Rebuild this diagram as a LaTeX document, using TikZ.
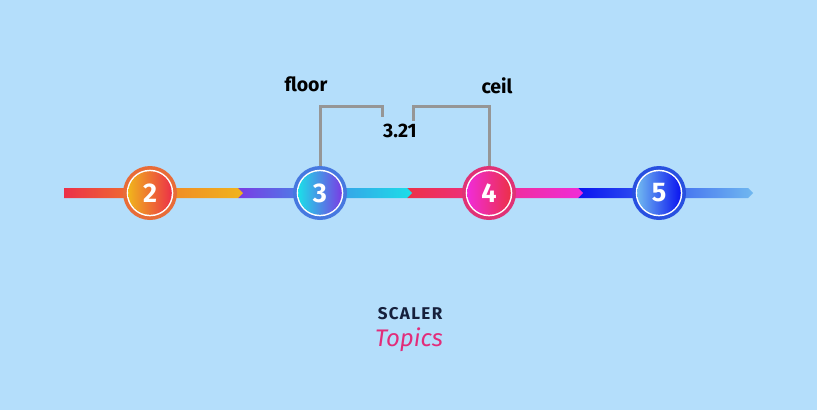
\documentclass[tikz,border=0pt]{standalone}
\usepackage{fontspec}
\setmainfont{Fira Sans}
\usetikzlibrary{calc}
\definecolor{bg}{RGB}{180,222,251}
\definecolor{brk}{RGB}{150,150,150}
\definecolor{navy}{RGB}{22,32,60}
\definecolor{pinkt}{RGB}{226,44,122}
\definecolor{sred}{RGB}{236,48,72}
\definecolor{sorange}{RGB}{240,130,40}
\definecolor{syellow}{RGB}{240,180,28}
\definecolor{spurple}{RGB}{122,60,228}
\definecolor{sblue}{RGB}{60,150,232}
\definecolor{scyan}{RGB}{28,222,232}
\definecolor{smag}{RGB}{240,44,216}
\definecolor{sdblue}{RGB}{10,20,240}
\definecolor{slblue}{RGB}{112,184,240}
\definecolor{ring2}{RGB}{232,108,56}
\definecolor{ring3}{RGB}{70,120,224}
\definecolor{ring4}{RGB}{224,50,118}
\definecolor{ring5}{RGB}{40,80,224}
\tikzset{
  x=1pt,y=-1pt,
  numtxt/.style={text=white,font=\fontsize{27}{27}\selectfont\bfseries},
  lbl/.style={text=black,font=\fontsize{19.5}{19.5}\selectfont\bfseries},
  bracket/.style={draw=brk,line width=3pt},
}
\newcommand{\seg}[4]{% start, end, left color, right color
  \shade[left color=#3,right color=#4] (#1,188) -- (#2-5,188) -- (#2,193) -- (#2-5,198) -- (#1,198) -- cycle;}
\newcommand{\numcircle}[6]{% name, x, ring, left, right, text
  \fill[#3] (#2,193) circle[radius=27];
  \fill[white] (#2,193) circle[radius=23.3];
  \shade[left color=#4,right color=#5] (#2,193) circle[radius=21.8];
  \node[numtxt] (#1) at (#2,193) {#6};}
\begin{document}
\begin{tikzpicture}
\fill[bg] (0,0) rectangle (817,410);
\useasboundingbox (0,0) rectangle (817,410);
% segments (right to left so tips overlap)
\seg{578}{753}{sdblue}{slblue}
\seg{407}{583}{sred}{smag}
\shade[left color=spurple,right color=scyan,middle color=sblue] (238,188) -- (407,188) -- (412,193) -- (407,198) -- (238,198) -- cycle;
\shade[left color=sred,right color=syellow,middle color=sorange] (64,188) -- (238,188) -- (243,193) -- (238,198) -- (64,198) -- cycle;
% brackets
\coordinate (fa) at (320,166);
\coordinate (fb) at (382,117);
\coordinate (ca) at (413,121);
\coordinate (cb) at (489,166);
\draw[bracket] (fa) |- (351,106) -| (fb);
\draw[bracket] (ca) |- (451,106) -| (cb);
% circles
\numcircle{n2}{150}{ring2}{syellow}{sred}{2}
\numcircle{n3}{320}{ring3}{scyan}{spurple}{3}
\numcircle{n4}{489}{ring4}{smag}{sred}{4}
\numcircle{n5}{659}{ring5}{slblue}{sdblue}{5}
% labels
\node[lbl] (floor) at (306,84) {floor};
\node[lbl] (ceil) at (497,86) {ceil};
\node[lbl] (val) at (400,131) {3.21};
% logo
\node[text=navy,font=\fontsize{17}{17}\selectfont\bfseries\addfontfeature{LetterSpace=8}] (scaler) at (410,314) {SCALER};
\node[text=pinkt,font=\fontsize{24}{24}\selectfont\itshape] (topics) at (409,340) {Topics};
\end{tikzpicture}
\end{document}
